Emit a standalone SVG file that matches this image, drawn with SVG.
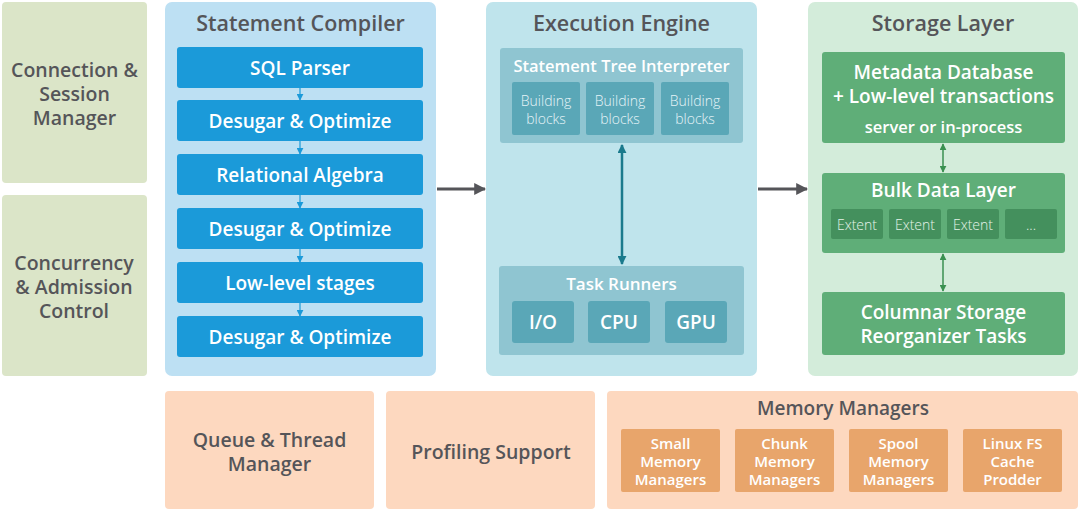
<svg xmlns="http://www.w3.org/2000/svg" width="1080" height="510" viewBox="0 0 1080 510">
<defs>
<style>
text{font-family:"Open Sans","Noto Sans",sans-serif;text-anchor:middle;dominant-baseline:central}
.dk{fill:#555559;font-weight:600}
.t20{font-size:21.5px}
.t19{font-size:19.5px}
.wt{fill:#fff;font-weight:600}
.lt{fill:#e6f4f7;font-weight:300;font-size:14px}
</style>
<marker id="ag" viewBox="0 0 10 10" refX="9" refY="5" markerWidth="4" markerHeight="4" orient="auto"><path d="M0,0L10,5L0,10z" fill="#555559"/></marker>
<marker id="ab" viewBox="0 0 10 10" refX="9" refY="5" markerWidth="7" markerHeight="7" markerUnits="userSpaceOnUse" orient="auto"><path d="M0,0L10,5L0,10z" fill="#1b9ad9"/></marker>
<marker id="at" viewBox="0 0 10 10" refX="9" refY="5" markerWidth="9" markerHeight="9" markerUnits="userSpaceOnUse" orient="auto-start-reverse"><path d="M0,0L10,5L0,10z" fill="#1a7a8c"/></marker>
<marker id="agr" viewBox="0 0 10 10" refX="9" refY="5" markerWidth="7" markerHeight="7" markerUnits="userSpaceOnUse" orient="auto-start-reverse"><path d="M0,0L10,5L0,10z" fill="#3a9150"/></marker>
</defs>
<rect width="1080" height="510" fill="#fff"/>

<g id="connection-session">
<rect x="2" y="2" width="145" height="181" rx="4" fill="#dbe5c8"/>
<text class="dk t19" x="74.5" y="69">Connection &amp;</text>
<text class="dk t19" x="74.5" y="93">Session</text>
<text class="dk t19" x="74.5" y="117">Manager</text>
</g>
<g id="concurrency">
<rect x="2" y="195" width="145" height="181" rx="4" fill="#dbe5c8"/>
<text class="dk t19" x="74" y="262">Concurrency</text>
<text class="dk t19" x="74" y="286">&amp; Admission</text>
<text class="dk t19" x="74" y="310">Control</text>
</g>

<g id="statement-compiler">
<rect x="165" y="2" width="271" height="374" rx="7" fill="#bde0f3"/>
<text class="dk t20" x="300.5" y="22">Statement Compiler</text>
<g fill="#1b9ad9">
<rect x="177" y="47" width="246" height="41" rx="3"/>
<rect x="177" y="100" width="246" height="41" rx="3"/>
<rect x="177" y="154" width="246" height="41" rx="3"/>
<rect x="177" y="208" width="246" height="41" rx="3"/>
<rect x="177" y="262" width="246" height="41" rx="3"/>
<rect x="177" y="316" width="246" height="41" rx="3"/>
</g>
<g class="wt" font-size="19">
<text x="300" y="68">SQL Parser</text>
<text x="300" y="121">Desugar &amp; Optimize</text>
<text x="300" y="175">Relational Algebra</text>
<text x="300" y="229">Desugar &amp; Optimize</text>
<text x="300" y="283">Low-level stages</text>
<text x="300" y="337">Desugar &amp; Optimize</text>
</g>
</g>

<g id="execution-engine">
<rect x="486" y="2" width="271" height="374" rx="7" fill="#bfe4ec"/>
<text class="dk t20" x="621.5" y="22">Execution Engine</text>
<rect x="500" y="48" width="243" height="95" rx="3" fill="#8fc5d1"/>
<text class="wt" font-size="16.5" x="621.5" y="65">Statement Tree Interpreter</text>
<g fill="#5aa7b7">
<rect x="512" y="82" width="68" height="53" rx="2"/>
<rect x="586" y="82" width="68" height="53" rx="2"/>
<rect x="661" y="82" width="68" height="53" rx="2"/>
</g>
<text class="lt" x="546" y="100">Building</text><text class="lt" x="546" y="118">blocks</text>
<text class="lt" x="620" y="100">Building</text><text class="lt" x="620" y="118">blocks</text>
<text class="lt" x="695" y="100">Building</text><text class="lt" x="695" y="118">blocks</text>
<rect x="499" y="266" width="245" height="89" rx="3" fill="#8fc5d1"/>
<text class="wt" font-size="17" x="621.5" y="283">Task Runners</text>
<g fill="#5aa7b7">
<rect x="512" y="301" width="62" height="42" rx="3"/>
<rect x="588" y="301" width="62" height="42" rx="3"/>
<rect x="665" y="301" width="62" height="42" rx="3"/>
</g>
<g class="wt" font-size="19" font-weight="500">
<text x="543" y="322">I/O</text>
<text x="619" y="322">CPU</text>
<text x="696" y="322">GPU</text>
</g>
</g>

<g id="storage-layer">
<rect x="808" y="2" width="270" height="374" rx="7" fill="#d3ecda"/>
<text class="dk t20" x="943" y="22">Storage Layer</text>
<rect x="822" y="52" width="243" height="91" rx="3" fill="#5fae78"/>
<text class="wt" font-size="19" x="943.5" y="72">Metadata Database</text>
<text class="wt" font-size="19" x="943.5" y="96">+ Low-level transactions</text>
<text class="wt" font-size="16.5" x="943.5" y="126">server or in-process</text>
<rect x="822" y="173" width="243" height="80" rx="3" fill="#5fae78"/>
<text class="wt" font-size="19" x="943.5" y="190">Bulk Data Layer</text>
<g fill="#44905d">
<rect x="831" y="209" width="52" height="30" rx="2"/>
<rect x="889" y="209" width="52" height="30" rx="2"/>
<rect x="947" y="209" width="52" height="30" rx="2"/>
<rect x="1005" y="209" width="52" height="30" rx="2"/>
</g>
<g fill="#e4f3e8" font-weight="300" font-size="14">
<text x="857" y="224">Extent</text>
<text x="915" y="224">Extent</text>
<text x="973" y="224">Extent</text>
<text x="1031" y="224">...</text>
</g>
<rect x="822" y="292" width="243" height="63" rx="3" fill="#5fae78"/>
<text class="wt" font-size="19" x="943.5" y="312">Columnar Storage</text>
<text class="wt" font-size="19" x="943.5" y="336">Reorganizer Tasks</text>
</g>

<g id="queue-thread">
<rect x="165" y="391" width="209" height="118" rx="4" fill="#fdd8bf"/>
<text class="dk t19" x="269.5" y="439">Queue &amp; Thread</text>
<text class="dk t19" x="269.5" y="463">Manager</text>
</g>
<g id="profiling">
<rect x="386" y="391" width="209" height="118" rx="4" fill="#fdd8bf"/>
<text class="dk t19" x="491" y="451">Profiling Support</text>
</g>
<g id="memory-managers">
<rect x="607" y="391" width="471" height="118" rx="4" fill="#fdd8bf"/>
<text class="dk" font-size="19" x="843" y="408">Memory Managers</text>
<g fill="#e8a56b">
<rect x="621" y="429" width="99" height="63" rx="2"/>
<rect x="735" y="429" width="99" height="63" rx="2"/>
<rect x="849" y="429" width="99" height="63" rx="2"/>
<rect x="963" y="429" width="99" height="63" rx="2"/>
</g>
<g class="wt" font-size="15">
<text x="670.5" y="443">Small</text><text x="670.5" y="461">Memory</text><text x="670.5" y="479">Managers</text>
<text x="784.5" y="443">Chunk</text><text x="784.5" y="461">Memory</text><text x="784.5" y="479">Managers</text>
<text x="898.5" y="443">Spool</text><text x="898.5" y="461">Memory</text><text x="898.5" y="479">Managers</text>
<text x="1012.5" y="443">Linux FS</text><text x="1012.5" y="461">Cache</text><text x="1012.5" y="479">Prodder</text>
</g>
</g>

<g id="connectors" fill="none">
<g stroke="#1b9ad9" stroke-width="1.2" marker-end="url(#ab)">
<line x1="300" y1="88" x2="300" y2="100"/>
<line x1="300" y1="141" x2="300" y2="154"/>
<line x1="300" y1="195" x2="300" y2="208"/>
<line x1="300" y1="249" x2="300" y2="262"/>
<line x1="300" y1="303" x2="300" y2="316"/>
</g>
<g stroke="#555559" stroke-width="3" marker-end="url(#ag)">
<line x1="437" y1="189" x2="485" y2="189"/>
<line x1="758" y1="189" x2="807" y2="189"/>
</g>
<line x1="622" y1="145" x2="622" y2="264" stroke="#1a7a8c" stroke-width="2.5" marker-start="url(#at)" marker-end="url(#at)"/>
<g stroke="#3a9150" stroke-width="1.5" marker-start="url(#agr)" marker-end="url(#agr)">
<line x1="943" y1="144" x2="943" y2="172"/>
<line x1="943" y1="254" x2="943" y2="291"/>
</g>
</g>
</svg>
